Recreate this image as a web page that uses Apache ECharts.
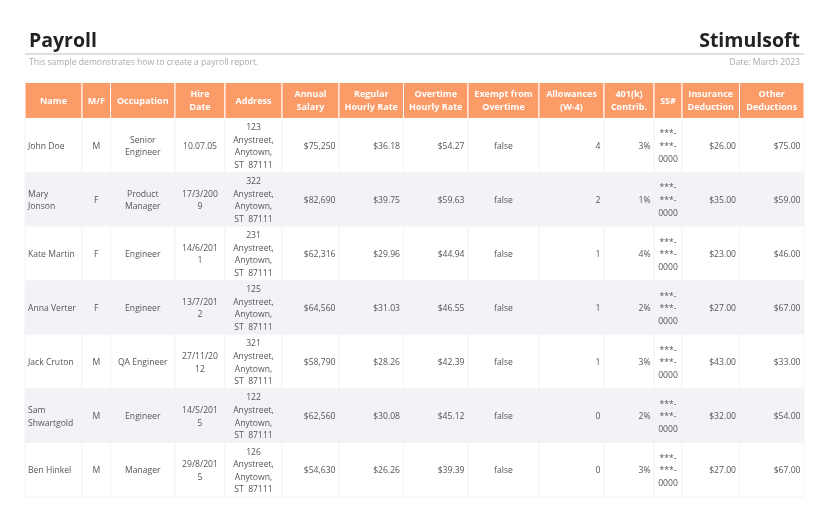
<!DOCTYPE html>
<html>
<head>
<meta charset="utf-8">
<title>Payroll</title>
<script src="https://cdn.jsdelivr.net/npm/echarts@6/dist/echarts.min.js"></script>
<style>
    html, body { margin: 0; padding: 0; background: #fff; }
    #main { width: 828px; height: 525px; }
</style>
</head>
<body>
<div id="main"></div>
<script>
    // table columns
    var headers = ['Name', 'M/F', 'Occupation', 'Hire\nDate', 'Address', 'Annual\nSalary', 'Regular\nHourly Rate',
        'Overtime\nHourly Rate', 'Exempt from\nOvertime', 'Allowances\n(W-4)', '401(k)\nContrib.', 'SS#',
        'Insurance\nDeduction', 'Other\nDeductions'];
    var names = ['John Doe', 'Mary\nJonson', 'Kate Martin', 'Anna Verter', 'Jack Cruton', 'Sam\nShwartgold', 'Ben Hinkel'];
    var genders = ['M', 'F', 'F', 'F', 'M', 'M', 'M'];
    var occupations = ['Senior\nEngineer', 'Product\nManager', 'Engineer', 'Engineer', 'QA Engineer', 'Engineer', 'Manager'];
    var hireDates = ['10.07.05', '17/3/200\n9', '14/6/201\n1', '13/7/201\n2', '27/11/20\n12', '14/5/201\n5', '29/8/201\n5'];
    var streetNumbers = ['123', '322', '231', '125', '321', '122', '126'];
    var salaries = ['$75,250', '$82,690', '$62,316', '$64,560', '$58,790', '$62,560', '$54,630'];
    var regularRates = ['$36.18', '$39.75', '$29.96', '$31.03', '$28.26', '$30.08', '$26.26'];
    var overtimeRates = ['$54.27', '$59.63', '$44.94', '$46.55', '$42.39', '$45.12', '$39.39'];
    var exempt = ['false', 'false', 'false', 'false', 'false', 'false', 'false'];
    var allowances = ['4', '2', '1', '1', '1', '0', '0'];
    var contrib = ['3%', '1%', '4%', '2%', '3%', '2%', '3%'];
    var ssn = ['***-\n***-\n0000', '***-\n***-\n0000', '***-\n***-\n0000', '***-\n***-\n0000', '***-\n***-\n0000', '***-\n***-\n0000', '***-\n***-\n0000'];
    var insurance = ['$26.00', '$35.00', '$23.00', '$27.00', '$43.00', '$32.00', '$27.00'];
    var otherDeductions = ['$75.00', '$59.00', '$46.00', '$67.00', '$33.00', '$54.00', '$67.00'];

    var addresses = streetNumbers.map(function (n) {
        return n + '\nAnystreet,\nAnytown,\nST  87111';
    });
    var columns = [names, genders, occupations, hireDates, addresses, salaries, regularRates, overtimeRates,
        exempt, allowances, contrib, ssn, insurance, otherDeductions];

    // layout of the table
    var colEdges = [25, 82, 110.5, 175, 225, 282, 339, 403.5, 468, 539, 604, 654, 682, 739.5, 804];
    var colAlign = ['left', 'center', 'center', 'center', 'center', 'right', 'right', 'right', 'center', 'right', 'right', 'center', 'right', 'right'];
    var headerTop = -0.656;

    var cells = [];
    headers.forEach(function (h, col) {
        cells.push([col, -1, h]);
        columns[col].forEach(function (v, row) {
            cells.push([col, row, v]);
        });
    });

    var myChart = echarts.init(document.getElementById('main'));

    function renderCell(params, api) {
        var col = api.value(0);
        var row = api.value(1);
        var text = cells[params.dataIndex][2];
        var isHeader = row < 0;
        var tl = api.coord([colEdges[col], isHeader ? headerTop : row]);
        var br = api.coord([colEdges[col + 1], row + 1]);
        var w = br[0] - tl[0];
        var h = br[1] - tl[1];
        var align = isHeader ? 'center' : colAlign[col];
        var tx = align === 'left' ? tl[0] + 3 : (align === 'right' ? br[0] - 3.5 : tl[0] + w / 2);
        var fill = isHeader ? '#fb9b68' : (row % 2 === 1 ? '#f1f3f6' : '#ffffff');
        var border = isHeader ? '#ffffff' : '#f2f3f5';
        return {
            type: 'group',
            children: [
                { type: 'rect', shape: { x: tl[0], y: tl[1], width: w, height: h }, style: { fill: fill } },
                { type: 'line', shape: { x1: tl[0], y1: tl[1], x2: tl[0], y2: br[1] }, style: { stroke: border, lineWidth: 1 } },
                { type: 'line', shape: { x1: br[0], y1: tl[1], x2: br[0], y2: br[1] }, style: { stroke: border, lineWidth: 1 } },
                { type: 'line', shape: { x1: tl[0], y1: br[1], x2: br[0], y2: br[1] }, style: { stroke: border, lineWidth: 1 } },
                {
                    type: 'text',
                    z2: 10,
                    style: {
                        x: tx,
                        y: tl[1] + h / 2 + (isHeader ? 0.5 : 1),
                        text: text,
                        align: align,
                        verticalAlign: 'middle',
                        fontFamily: '"Open Sans"',
                        fontSize: isHeader ? 9 : 8.6,
                        fontWeight: isHeader ? 'bold' : 'normal',
                        lineHeight: 12.6,
                        fill: isHeader ? '#ffffff' : '#555555'
                    }
                }
            ]
        };
    }

    myChart.setOption({
        animation: false,
        title: [
            { text: 'Payroll', left: 24, top: 26, textStyle: { fontFamily: '"Open Sans"', fontSize: 19.5, fontWeight: 'bold', color: '#222222' } },
            { text: 'Stimulsoft', right: 23, top: 26, textStyle: { fontFamily: '"Open Sans"', fontSize: 19.5, fontWeight: 'bold', color: '#222222' } },
            { text: 'This sample demonstrates how to create a payroll report.', left: 24, top: 53, textStyle: { fontFamily: '"Open Sans"', fontSize: 8.6, fontWeight: 'normal', color: '#aaaaaa' } },
            { text: 'Date: March 2023', right: 23, top: 53, textStyle: { fontFamily: '"Open Sans"', fontSize: 8.6, fontWeight: 'normal', color: '#aaaaaa' } }
        ],
        graphic: [{
            type: 'line',
            shape: { x1: 25, y1: 54, x2: 804, y2: 54 },
            style: { stroke: '#d4d4d4', lineWidth: 1.5 }
        }],
        grid: { left: 25, right: 24, top: 83, bottom: 28 },
        xAxis: { type: 'value', min: 25, max: 804, show: false },
        yAxis: { type: 'value', min: headerTop, max: 7, inverse: true, show: false },
        series: [{
            type: 'custom',
            renderItem: renderCell,
            clip: false,
            silent: true,
            encode: { x: 0, y: 1 },
            data: cells.map(function (c) { return [c[0], c[1]]; })
        }]
    });
</script>
</body>
</html>
